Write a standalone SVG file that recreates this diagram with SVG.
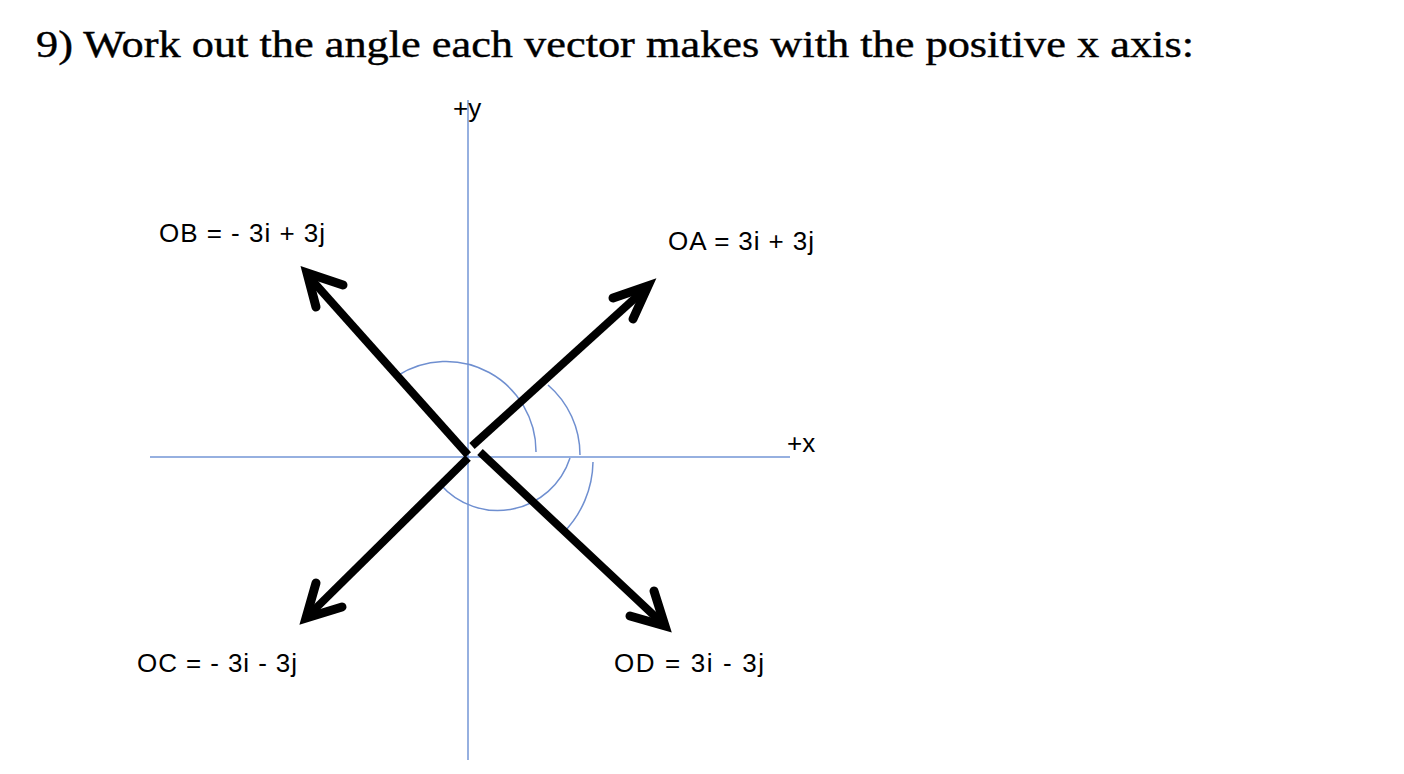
<svg xmlns="http://www.w3.org/2000/svg" width="1404" height="774" viewBox="0 0 1404 774">
<style>
.title{font-family:"Liberation Serif","DejaVu Serif",serif;font-size:37px;fill:#000;stroke:#000;stroke-width:0.4}
.lbl{font-family:"Liberation Sans",Arial,sans-serif;font-size:26px;fill:#000}
.axis{stroke:#7396d6;stroke-width:1.5;fill:none}
.arc{stroke:#6f8fd0;stroke-width:1.5;fill:none}
.vec{stroke:#000;stroke-width:8;fill:none;stroke-linecap:butt}
.head{stroke:#000;stroke-width:9;fill:none;stroke-linecap:round;stroke-linejoin:miter;stroke-miterlimit:10}
</style>
<rect width="1404" height="774" fill="#fff"/>
<text class="title" x="36" y="57" textLength="1158" lengthAdjust="spacingAndGlyphs">9) Work out the angle each vector makes with the positive x axis:</text>
<g id="axes">
<line class="axis" x1="468" y1="100" x2="468" y2="760"/>
<line class="axis" x1="150" y1="457" x2="790" y2="457"/>
</g>
<g id="label-y"><text class="lbl" x="453" y="117">+y</text></g>
<g id="label-x"><text class="lbl" x="787" y="452">+x</text></g>
<g id="arcs">
<path class="arc" d="M397,376 A90,90 0 0 1 536,452"/>
<path class="arc" d="M548,385 A92,92 0 0 1 580,455"/>
<path class="arc" d="M570,458 A76,76 0 0 1 440,484"/>
<path class="arc" d="M593,462 A103,103 0 0 1 563,533"/>
</g>
<g id="connectors">
<g id="OA">
<line class="vec" x1="472" y1="446" x2="644" y2="290"/>
<polyline class="head" points="613,298 648,286 633,319"/>
</g>
<g id="OB">
<line class="vec" x1="468" y1="455" x2="310" y2="278"/>
<polyline class="head" points="343,285 307,273 316,307"/>
</g>
<g id="OC">
<line class="vec" x1="468" y1="458" x2="311" y2="613"/>
<polyline class="head" points="316,583 306,618 342,607"/>
</g>
<g id="OD">
<line class="vec" x1="480" y1="452" x2="662" y2="623"/>
<polyline class="head" points="654,591 665,626 630,616"/>
</g>
</g>
<g id="node-OB"><text class="lbl" x="159" y="242" textLength="166" lengthAdjust="spacing">OB = - 3i + 3j</text></g>
<g id="node-OA"><text class="lbl" x="668" y="250" textLength="146" lengthAdjust="spacing">OA = 3i + 3j</text></g>
<g id="node-OC"><text class="lbl" x="137" y="672" textLength="160" lengthAdjust="spacing">OC = - 3i - 3j</text></g>
<g id="node-OD"><text class="lbl" x="614" y="672" textLength="150" lengthAdjust="spacing">OD = 3i - 3j</text></g>
</svg>
